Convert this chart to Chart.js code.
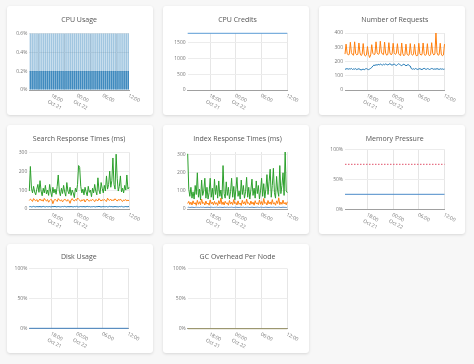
<!DOCTYPE html>
<html><head><meta charset="utf-8">
<script src="https://cdn.jsdelivr.net/npm/chart.js@4.4.0/dist/chart.umd.min.js"></script>
<style>
html,body{margin:0;padding:0;background:#f7f7f7;width:474px;height:364px;overflow:hidden;font-family:"Open Sans",sans-serif;}
.card{position:absolute;background:#fff;border-radius:3px;box-shadow:0 1px 3px rgba(0,0,0,0.13);}
.card canvas{position:absolute;left:0;top:0;}
.title{position:absolute;font-size:7px;color:#555;text-align:center;line-height:10px;white-space:nowrap;}
</style></head><body>
<script>
// ---------- DATA ----------
const xTickHours = [18, 24, 30, 36];
const xTickLabels = [["18:00", "Oct 21"], ["00:00", "Oct 22"], ["06:00"], ["12:00"]];
const cpuTicks = [0, 0.2, 0.4, 0.6];
const creditTicks = [0, 500, 1000, 1500];
const requestTicks = [0, 100, 200, 300, 400];
const responseTicks = [0, 100, 200, 300];
const pctTicks = [0, 50, 100];

const startHour = 12.75, stepHours = 0.25;      // 15-minute samples
const barStartHour = 12.975, barStepHours = 0.45;
const flatHours = [12.75, 36];

const cpuMaxPct = [0.6,0.6,0.6,0.6,0.6,0.6,0.6,0.6,0.6,0.6,
                   0.6,0.6,0.6,0.6,0.6,0.6,0.6,0.6,0.6,0.6,
                   0.6,0.6,0.6,0.6,0.6,0.6,0.6,0.6,0.6,0.6,
                   0.6,0.6,0.6,0.6,0.6,0.6,0.6,0.6,0.6,0.6,
                   0.6,0.6,0.6,0.6,0.6,0.6,0.6,0.6,0.6,0.6,
                   0.6,0.6];
const cpuAvgPct = [0.2,0.2,0.2,0.2,0.2,0.2,0.2,0.2,0.2,0.2,
                   0.2,0.2,0.2,0.2,0.2,0.2,0.2,0.2,0.2,0.2,
                   0.2,0.2,0.2,0.2,0.2,0.2,0.2,0.2,0.2,0.2,
                   0.2,0.2,0.2,0.2,0.2,0.2,0.2,0.2,0.2,0.2,
                   0.2,0.2,0.2,0.2,0.2,0.2,0.2,0.2,0.2,0.2,
                   0.2,0.2];
const cpuCredits = [1800, 1800];

const requestsOrange = [252,322,258,246,250,335,262,248,244,338,
                        255,247,251,330,260,242,249,326,252,238,
                        245,305,250,228,246,318,258,249,252,338,
                        262,250,255,342,266,252,248,336,258,244,
                        250,332,260,247,253,328,262,250,256,325,
                        258,246,242,330,255,240,248,322,252,243,
                        247,326,256,244,250,320,250,238,246,328,
                        254,245,249,330,256,242,250,325,252,240,
                        248,332,258,246,252,400,262,244,248,328,
                        252,240,246,322];
const requestsBlue = [145,148,150,146,149,147,151,144,148,146,
                      150,143,147,149,145,140,144,146,142,148,
                      150,146,143,147,152,158,
                      168,175,172,178,174,180,176,182,178,175,
                      181,177,183,179,176,180,185,178,174,179,
                      182,176,172,178,184,180,175,171,177,181,
                      176,170,174,179,172,168,
                      150,146,149,145,151,147,144,148,150,146,
                      143,149,152,147,145,150,148,144,147,151,
                      149,145,148,146,150,147,144,149,146,148,
                      145,147];

const searchGreen = [95,225,110,85,120,90,75,105,130,88,
                     150,95,70,110,85,125,80,100,72,130,
                     90,65,115,85,105,78,120,180,95,70,
                     110,82,125,90,68,140,95,80,115,72,
                     100,85,60,110,90,130,230,220,120,85,
                     105,75,115,90,70,120,88,100,65,110,
                     85,130,95,75,165,100,80,140,110,85,
                     125,95,175,105,130,200,115,150,270,130,
                     105,290,160,95,120,175,90,110,85,125,
                     100,180,105,115];
const searchOrange = [45,52,48,40,55,47,43,50,38,46,
                      53,44,49,41,56,47,42,50,36,45,
                      51,48,28,44,52,46,40,55,47,43,
                      49,38,45,53,47,41,50,44,30,48,
                      55,46,42,50,45,58,52,47,40,49,
                      44,51,37,46,53,45,41,48,44,52,
                      46,39,50,47,43,55,48,42,49,45,
                      51,44,40,57,48,46,52,43,49,45,
                      54,47,42,50,46,53,44,40,48,45,
                      50,43,47,44];
const searchBlue = [12,13,11,12,14,12,11,13,12,12,
                    13,11,12,14,12,11,13,12,12,13,
                    11,12,13,12,14,11,12,13,12,11,
                    12,13,12,14,12,11,13,12,12,13,
                    12,11,13,12,14,12,11,12,13,12,
                    12,13,11,12,14,12,13,11,12,12,
                    13,12,11,13,12,14,12,11,12,13,
                    12,12,13,11,12,14,12,13,11,12,
                    13,12,12,11,13,12,14,12,11,12,
                    13,12,12,13];

const indexGreen = [305,110,70,120,60,95,55,130,80,200,
                    65,110,50,160,75,100,170,60,120,55,
                    90,170,65,115,50,165,80,130,60,155,
                    70,105,55,240,85,60,150,75,120,55,
                    95,170,65,125,50,110,175,70,100,55,
                    160,80,130,60,95,175,65,120,55,105,
                    165,75,115,60,155,85,130,55,100,170,
                    70,140,60,110,190,80,150,220,65,130,
                    225,90,60,180,100,70,240,85,130,200,
                    75,315,100,90];
const indexOrange = [30,42,25,38,22,45,28,35,20,48,
                     26,40,24,55,30,36,22,44,27,33,
                     21,50,29,38,23,42,26,35,20,46,
                     28,60,25,39,22,43,30,34,21,47,
                     27,38,24,52,29,36,22,45,26,33,
                     20,48,28,40,23,55,30,35,22,44,
                     27,38,21,46,29,34,24,50,26,41,
                     23,58,30,36,22,47,28,39,25,52,
                     27,35,21,45,30,62,24,38,26,49,
                     28,36,23,40];
const indexBlue = [9,10,8,9,10,9,8,9,10,9,
                   9,8,10,9,9,10,8,9,9,10,
                   8,9,10,9,8,9,9,10,9,8,
                   10,9,9,8,10,9,9,10,8,9,
                   9,10,9,8,9,10,9,9,8,10,
                   9,9,10,8,9,9,10,9,8,9,
                   10,9,8,9,9,10,9,8,10,9,
                   9,8,9,10,9,9,8,10,9,9,
                   10,9,8,9,9,10,9,8,9,10,
                   9,9,8,10];

const memoryUsedPct = [25, 25];
const memoryThresholdPct = [75, 75];
const diskUsedPct = [0, 0];
const gcOverheadPct = [0, 0];

// ---------- BUILD ----------
const seriesHours = requestsOrange.map((_, i) => startHour + i * stepHours);
const barHours = cpuMaxPct.map((_, i) => barStartHour + i * barStepHours);
const pts = (hours, vals) => vals.map((v, i) => ({x: hours[i], y: v}));

const BLUE = '#1f77b4', ORANGE = '#ff7f0e', GREEN = '#2ca02c';
const FONT = '"Open Sans", sans-serif';

const xLabelPlugin = {
  id: 'xLabels',
  afterDraw(chart) {
    const s = chart.scales.x, ctx = chart.ctx, b = chart.chartArea.bottom;
    ctx.save();
    ctx.font = '5px ' + FONT;
    ctx.fillStyle = '#777';
    ctx.textAlign = 'left';
    ctx.textBaseline = 'top';
    xTickHours.forEach((v, i) => {
      const px = s.getPixelForValue(v);
      ctx.save();
      ctx.translate(px + 0.5, b + 3);
      ctx.rotate(28 * Math.PI / 180);
      xTickLabels[i].forEach((line, j) => ctx.fillText(line, 0, j * 7));
      ctx.restore();
    });
    ctx.restore();
  }
};

function line(data, color, extra) {
  return Object.assign({type: 'line', data, borderColor: color, backgroundColor: color,
    borderWidth: 1, pointRadius: 0, fill: false, tension: 0, clip: 3}, extra || {});
}

const specs = [
  {card: [7, 6, 146, 109], plot: [29.3, 33.3, 129, 90], titleY: 20, title: 'CPU Usage',
   max: 0.6, ticks: cpuTicks, fmt: v => (+v.toFixed(1)) + '%', type: 'bar',
   datasets: [
     {type: 'bar', data: pts(barHours, cpuAvgPct), backgroundColor: 'rgba(31,119,180,0.75)', grouped: false,
      barPercentage: 1, categoryPercentage: 0.8},
     {type: 'bar', data: pts(barHours, cpuMaxPct), backgroundColor: 'rgba(31,119,180,0.42)', grouped: false,
      barPercentage: 1, categoryPercentage: 0.8}
   ]},
  {card: [163, 6, 146, 109], plot: [187.7, 33.3, 287.3, 90], titleY: 20, title: 'CPU Credits',
   max: 1800, ticks: creditTicks, fmt: v => String(v),
   datasets: [line(pts(flatHours, cpuCredits), '#5b9bd5')]},
  {card: [319, 6, 146, 109], plot: [345, 33, 444.5, 90], titleY: 20, title: 'Number of Requests',
   max: 400, ticks: requestTicks, fmt: v => String(v),
   datasets: [line(pts(seriesHours, requestsOrange), ORANGE), line(pts(seriesHours, requestsBlue), BLUE)]},
  {card: [7, 125, 146, 109], plot: [29.3, 152.3, 129, 209], titleY: 139.3, title: 'Search Response Times (ms)',
   max: 300, ticks: responseTicks, fmt: v => String(v),
   datasets: [line(pts(seriesHours, searchBlue), BLUE), line(pts(seriesHours, searchOrange), ORANGE),
              line(pts(seriesHours, searchGreen), GREEN)]},
  {card: [163, 125, 146, 109], plot: [187.7, 152, 287.3, 209], titleY: 139, title: 'Index Response Times (ms)',
   max: 315, ticks: responseTicks, fmt: v => String(v),
   datasets: [line(pts(seriesHours, indexBlue), '#5b8fc4'), line(pts(seriesHours, indexOrange), ORANGE),
              line(pts(seriesHours, indexGreen), GREEN)]},
  {card: [319, 125, 146, 109], plot: [345, 149.3, 444.5, 209.3], titleY: 139, title: 'Memory Pressure',
   max: 100, ticks: pctTicks, fmt: v => v + '%',
   datasets: [line(pts(flatHours, memoryThresholdPct), '#e0506a', {borderDash: [1.5, 1.5]}),
              line(pts(flatHours, memoryUsedPct), '#4a8ac8')]},
  {card: [7, 244, 146, 109], plot: [29.3, 268.3, 128.3, 328.3], titleY: 257.3, title: 'Disk Usage',
   max: 100, ticks: pctTicks, fmt: v => v + '%',
   datasets: [line(pts(flatHours, diskUsedPct), '#4a8ac8')]},
  {card: [163, 244, 146, 109], plot: [187.7, 268.7, 287.3, 328.7], titleY: 257, title: 'GC Overhead Per Node',
   max: 100, ticks: pctTicks, fmt: v => v + '%',
   datasets: [line(pts(flatHours, gcOverheadPct), '#9c9565')]}
];

const Y_W = 20, X_H = 1;
specs.forEach(sp => {
  const [cx, cy, cw, ch] = sp.card;
  const [L, T, R, B] = sp.plot;
  const card = document.createElement('div');
  card.className = 'card';
  Object.assign(card.style, {left: cx + 'px', top: cy + 'px', width: cw + 'px', height: ch + 'px'});
  const cv = document.createElement('canvas');
  cv.width = cw; cv.height = ch;
  card.appendChild(cv);
  document.body.appendChild(card);
  const t = document.createElement('div');
  t.className = 'title';
  t.textContent = sp.title;
  Object.assign(t.style, {left: L + 'px', width: (R - L) + 'px', top: (sp.titleY - 5) + 'px'});
  document.body.appendChild(t);

  new Chart(cv, {
    type: sp.type || 'line',
    data: {datasets: sp.datasets},
    plugins: [xLabelPlugin],
    options: {
      responsive: false, animation: false, devicePixelRatio: 1,
      layout: {padding: {left: L - cx - Y_W, top: T - cy, right: cx + cw - R, bottom: cy + ch - B - X_H}},
      plugins: {legend: {display: false}, tooltip: {enabled: false}, title: {display: false}},
      scales: {
        x: {type: 'linear', min: 12.75, max: 36, offset: false,
            afterBuildTicks: s => { s.ticks = xTickHours.map(v => ({value: v})); },
            ticks: {display: false, autoSkip: false},
            grid: {color: '#e6e6e6', drawTicks: false, lineWidth: 1},
            border: {display: true, color: '#a0a0a0', width: 1},
            afterFit: s => { s.height = X_H; }},
        y: {min: 0, max: sp.max,
            afterBuildTicks: s => { s.ticks = sp.ticks.map(v => ({value: v})); },
            ticks: {autoSkip: false, padding: 2, color: '#777', font: {size: 5, family: FONT}, callback: sp.fmt},
            grid: {color: '#ececec', drawTicks: false},
            border: {display: false},
            afterFit: s => { s.width = Y_W; }}
      }
    }
  });
});
</script>
</body></html>
